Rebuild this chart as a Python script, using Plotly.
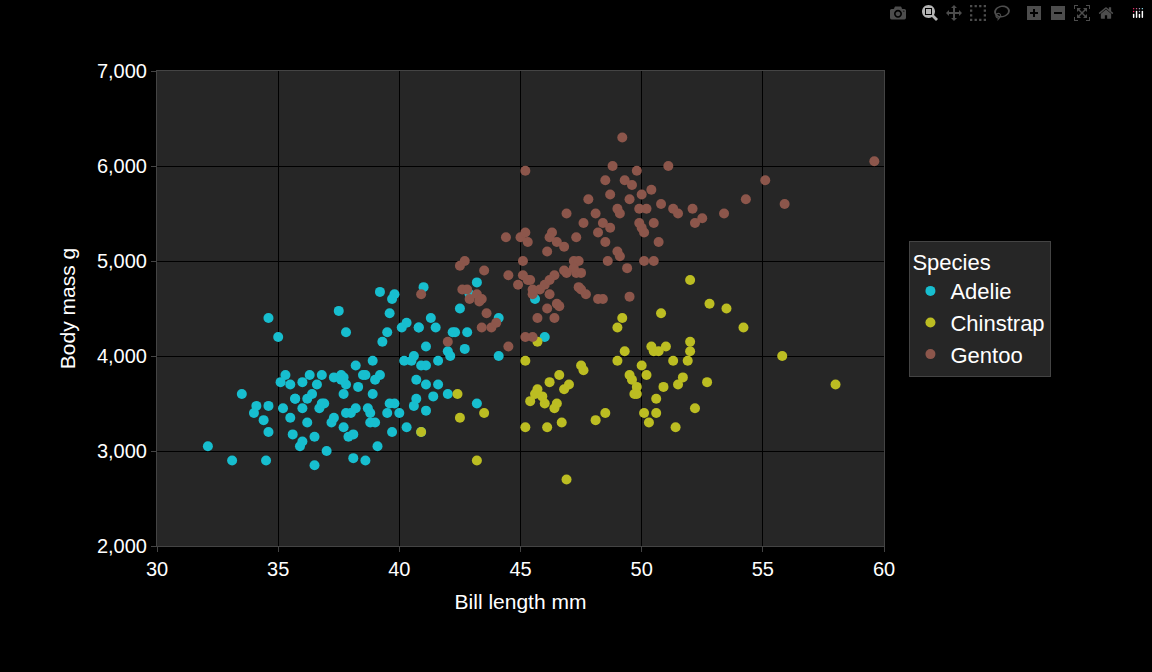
import plotly.graph_objects as go

adelie_x = [32.1,33.1,33.5,34,34.1,34.4,34.5,34.6,34.6,35,35.1,35.2,35.3,35.5,35.5,35.6,35.7,35.9,36,36,36,36.2,36.3,36.4,36.5,36.6,36.7,36.8,37,37.2,37.3,37.5,37.6,37.7,37.8,37.8,37.9,38,38.1,38.2,38.3,38.6,38.6,38.7,38.8,38.9,39,39.1,39.2,39.3,39.5,39.6,39.7,39.8,39.8,40,40.2,40.3,40.5,40.6,40.7,40.8,40.9,41,41.1,41.1,41.3,41.4,41.5,41.6,42,42.2,42.3,42.5,42.7,42.8,42.9,43.2,43.2,44.1,44.1,45.6,46,39.5,38.9,37.7,39.2,40.3,36.8,38.5,37.3,41.1,37.6,38.1,39,40.6,36.9,37.8,38.2,41.1,40.1,42.1,40.8,40.7,42,39.6,35.7,36.2,37.7,39.7,41.6,38.8,40.9,36.5,34.6]
adelie_y = [3050,2900,3600,3400,3475,3325,2900,4400,3200,4200,3725,3450,3800,3700,3350,3175,3550,3050,3725,3450,3100,3300,3800,3600,2850,3700,3450,3500,3000,3300,3350,4475,3800,3600,4250,3700,3150,3400,2925,3900,3675,3800,2900,3450,3300,3950,3750,3050,4675,4150,4250,4450,4600,4650,3500,3400,3950,4350,3950,4000,3550,4300,3900,4725,3700,3425,4400,3575,4300,3950,4050,4250,4250,4500,4075,4250,4650,4775,3500,4000,4400,4600,4200,3400,3600,3775,3800,3250,3800,3800,3775,3900,3750,3175,3300,3475,3500,3400,3450,4100,4300,4000,4300,3750,3600,3500,3550,3550,3250,3200,3700,3400,3200,3150,3475]

chinstrap_x = [40.9,42.4,42.5,43.2,43.5,45.2,45.2,45.4,45.6,45.7,45.9,46,46.1,46.2,46.4,46.5,46.6,46.7,46.8,46.9,47,47.5,47.6,48.1,48.5,49,49,49.2,49.3,49.5,49.6,49.7,49.8,50,50.1,50.2,50.3,50.5,50.6,50.7,50.8,50.9,51,51.3,51.4,51.5,51.7,51.9,52,52,52,52.2,52.7,52.8,53.5,54.2,55.8,58,45.7,50.6,49.8,50.4]
chinstrap_y = [3200,3600,3350,2900,3400,3950,3250,3525,3600,3650,3575,3500,3250,3725,3450,3500,3800,3300,3650,2700,3700,3900,3850,3325,3400,3950,4300,4400,4050,3800,3750,3600,3675,3900,3400,3800,3300,4050,3400,4050,4450,3675,4100,3950,3250,3700,3775,3950,4050,4150,4800,3450,3725,4550,4500,4300,4000,3700,4150,3550,3600,4100]

gentoo_x = [40.9,42,42.5,42.6,42.7,42.8,42.9,43.2,43.3,43.4,43.5,43.6,43.8,44,44.4,44.5,44.9,45,45.1,45.2,45.2,45.3,45.4,45.5,45.5,45.7,45.8,46.1,46.2,46.3,46.4,46.5,46.6,46.8,46.9,47.2,47.3,47.4,47.5,47.6,47.7,47.8,48.1,48.2,48.4,48.5,48.6,48.7,48.8,49,49.1,49.2,49.3,49.4,49.5,49.6,49.8,49.9,50,50.1,50.2,50.4,50.5,50.7,50.8,51.1,51.3,51.5,52.1,52.2,52.5,53.4,54.3,55.1,55.9,59.6,46.1,46.5,47.5,45.1,46.2,47.3,48.5,49.1,45.2,48.7,46.4,47.2,46.8,45.5,50,44.5,46.9,48.4,46,47.4,49,49.5,48.2,50.5,43.4,45.3,46.2,49.9,50.1]
gentoo_y = [4650,4150,4950,4700,5000,4700,4600,4650,4575,4600,4900,4450,4300,4350,5250,4850,4750,5250,5000,5950,5300,4800,4800,4650,4200,4400,4700,5100,4650,5300,4850,5200,4525,4900,5500,5000,4875,5000,4700,5400,4650,5650,5500,5300,4600,5850,5000,5350,6000,5550,5050,6300,5850,4925,5650,5800,5950,5400,5700,5000,5550,5750,5400,5200,5600,6000,5550,5500,5550,5400,5450,5500,5650,5850,5600,6050,4500,4550,4875,4850,5250,5250,5200,5500,4200,5700,4400,4925,5150,4700,5350,4100,4875,5400,4750,4725,5100,4625,4600,5000,4300,5200,4800,5550,5300]

species = ["Adelie", "Chinstrap", "Gentoo"]
colors = ["#17becf", "#bcbd22", "#8c564b"]

fig = go.Figure()
for name, xs, ys, c in zip(species, [adelie_x, chinstrap_x, gentoo_x],
                           [adelie_y, chinstrap_y, gentoo_y], colors):
    fig.add_trace(go.Scatter(x=xs, y=ys, mode="markers", name=name,
                             marker=dict(color=c, size=10)))

axis_style = dict(gridcolor="#000000", gridwidth=1, zeroline=False,
                  showline=True, linecolor="#444444", mirror=True,
                  ticks="outside", ticklen=5, tickcolor="#444444",
                  tickfont=dict(size=20, color="white"),
                  title_font=dict(size=21, color="white"))

fig.update_layout(
    width=1152, height=672,
    paper_bgcolor="#000000", plot_bgcolor="#262626",
    font=dict(family="Liberation Sans, Arial, sans-serif", color="white"),
    margin=dict(l=157, r=268, t=71, b=126),
    legend=dict(title=dict(text="Species", font=dict(size=22)),
                font=dict(size=22), bgcolor="#262626",
                bordercolor="#444444", borderwidth=1,
                x=1.035, y=0.5, yanchor="middle"),
)
fig.update_xaxes(range=[30, 60], dtick=5, title_text="Bill length mm", **axis_style)
fig.update_yaxes(range=[2000, 7000], dtick=1000, tickformat=",",
                 title_text="Body mass g", **axis_style)

# remove the page margin so the figure sits at the window's corner
fig.write_html("out.html", post_script="document.body.style.margin='0';document.body.style.background='#000';")
